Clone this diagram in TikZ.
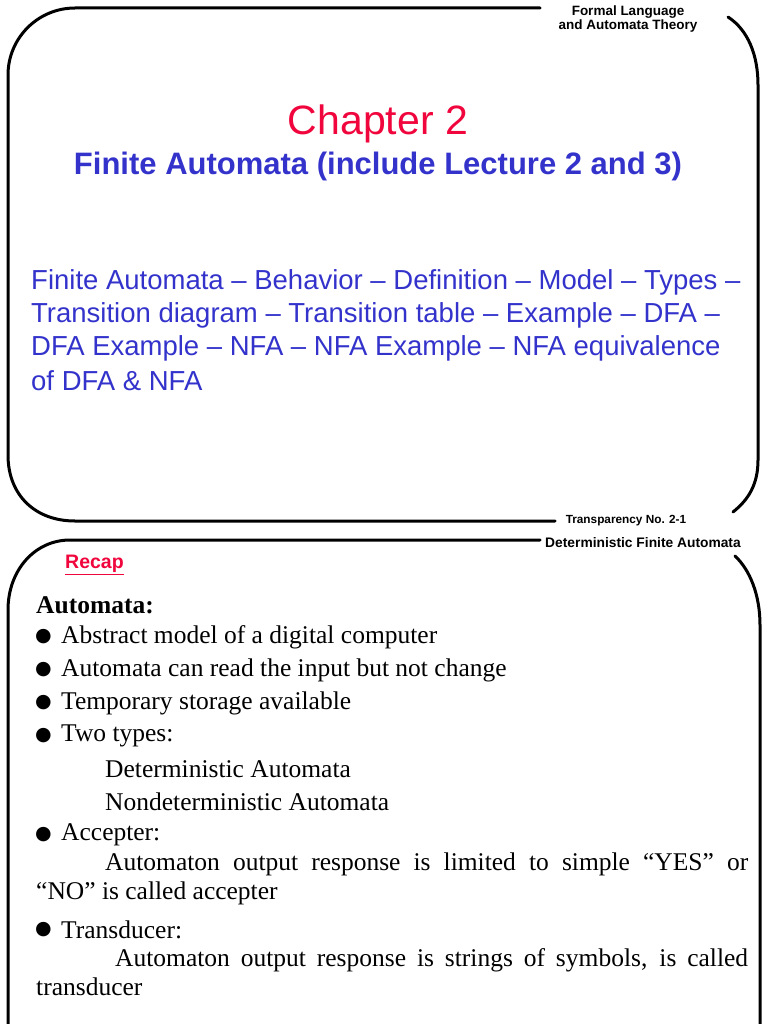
\documentclass[tikz,border=0pt]{standalone}
\usepackage{fontspec}
\setmainfont{Liberation Serif}
\newfontfamily\ar{Liberation Sans}
\newfontfamily\djv{DejaVu Sans}
\definecolor{chred}{HTML}{F0053C}
\definecolor{chblue}{HTML}{3333CC}
\begin{document}
\begin{tikzpicture}[x=1pt,y=-1pt,
  frame/.style={line width=3pt,line cap=round},
  sb/.style={anchor=west,inner sep=0pt,font=\fontsize{27.5}{32}\selectfont\ar,text=chblue},
  ln/.style={anchor=west,inner sep=0pt,font=\fontsize{25.5}{29}\selectfont},
  bl/.style={anchor=west,inner sep=0pt,font=\fontsize{19}{22}\selectfont\djv}]
\useasboundingbox (0,0) rectangle (768,1024);
% top frame
\draw[frame] (540,8) -- (75,8) .. controls (38,8) and (8,38) .. (8,75) -- (8,455) .. controls (8,495) and (35,521) .. (75,521) -- (555,521);
\draw[frame] (728,17) .. controls (748,30) and (758,55) .. (758,85) -- (758,460) .. controls (758,485) and (748,500) .. (733,512);
% bottom frame
\draw[frame] (540,540) -- (70,540) .. controls (35,540) and (8,570) .. (8,610) -- (8,1030);
\draw[frame] (735,556) .. controls (750,570) and (760,595) .. (760,625) -- (760,1030);
\node[inner sep=0pt,align=center,font=\fontsize{13.5}{14}\selectfont\bfseries\ar] (hdr) at (628,19) {Formal Language\\and Automata Theory};
\node[inner sep=0pt,font=\fontsize{11.8}{12}\selectfont\bfseries\ar] (tp) at (626,521) {Transparency No. 2-1};
\node[inner sep=0pt,font=\fontsize{13.8}{14}\selectfont\bfseries\ar] (dfa) at (643,543) {Deterministic Finite Automata};
\node[inner sep=0pt,font=\fontsize{41}{44}\selectfont\ar,text=chred] (ch) at (378,124) {Chapter 2};
\node[inner sep=0pt,font=\fontsize{31}{34}\selectfont\bfseries\ar,text=chblue] (sub) at (378,166) {Finite Automata (include Lecture 2 and 3)};
\node[sb] (p1) at (31,282) {Finite Automata – Behavior – Definition – Model – Types –};
\node[sb] (p2) at (31,315) {Transition diagram – Transition table – Example – DFA –};
\node[sb] (p3) at (31,348) {DFA Example – NFA – NFA Example – NFA equivalence};
\node[sb] (p4) at (31,381) {of DFA \& NFA};
\node[inner sep=0pt,anchor=west,font=\fontsize{19.5}{22}\selectfont\bfseries\ar,text=chred] (rc) at (65,565) {\underline{Recap}};
\node[ln] (a0) at (36,605) {\bfseries Automata:};
\foreach \y/\t in {637/Abstract model of a digital computer,670/Automata can read the input but not change,703/Temporary storage available,736/Two types:,835/Accepter:,930/Transducer:}{
  \node[bl] at (35,\y) {●};
  \node[ln] at (61,\y) {\t};
}
\node[ln] (d1) at (105,769) {Deterministic Automata};
\node[ln] (d2) at (105,802) {Nondeterministic Automata};
\node[ln,anchor=north west,text width=712pt,align=justify] (ac) at (36,853) {\hspace*{69pt}Automaton output response is limited to simple “YES” or\linebreak “NO” is called accepter};
\node[ln,anchor=north west,text width=712pt,align=justify] (tr) at (36,948) {\hspace*{79pt}Automaton output response is strings of symbols, is called\linebreak transducer};
\end{tikzpicture}
\end{document}
